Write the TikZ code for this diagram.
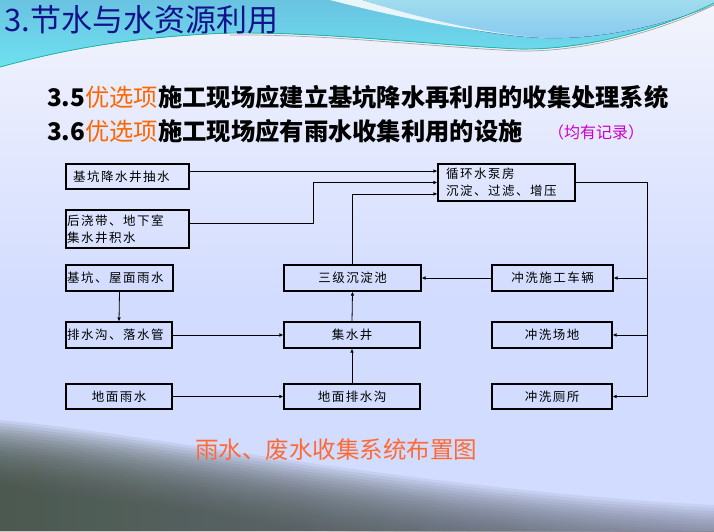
\documentclass[tikz,border=0pt]{standalone}
\usepackage{fontspec}
\setmainfont{Noto Sans CJK SC}
\newfontfamily\hei{Noto Sans CJK SC}
\newfontfamily\boxfont{Noto Sans CJK SC}[LetterSpace=12]
\usetikzlibrary{arrows.meta,calc}
\definecolor{wsnavy}{RGB}{18,18,140}
\definecolor{wsorange}{RGB}{255,102,0}
\definecolor{wscaption}{RGB}{255,105,50}
\definecolor{wsmagenta}{RGB}{204,0,204}
\definecolor{wsbgtop}{RGB}{243,244,252}
\definecolor{wsbgbot}{RGB}{210,220,255}
\definecolor{wswavel}{RGB}{105,195,225}
\definecolor{wswaveb}{RGB}{110,225,240}
\definecolor{wswaver}{RGB}{160,220,238}
\definecolor{wswaverb}{RGB}{135,200,240}
\definecolor{wsteal}{RGB}{30,185,165}
\definecolor{wsgreen}{RGB}{140,165,140}
\tikzset{
wsbox/.style={rectangle,draw,line width=1.1pt,inner sep=0pt,align=center,
  font=\boxfont\fontsize{12.5}{16.5}\selectfont},
wsleft/.style={wsbox,align=left},
wsarr/.style={-{Latex[length=4pt,width=3.6pt]},line width=0.8pt},
wsline/.style={line width=0.8pt},
wstext/.style={anchor=west,inner sep=0pt}
}
\begin{document}
\begin{tikzpicture}[x=1pt,y=-1pt]
\useasboundingbox (0,0) rectangle (714,531);
% background and waves
\fill[top color=wsbgtop,bottom color=wsbgbot] (0,0) rectangle (714,300);
\fill[wsbgbot] (0,299) rectangle (714,531);
\foreach \d in {0,3,...,66}
  \fill[left color=wsgreen,right color=wsbgbot,opacity=0.05]
    (0,420+\d) .. controls (160,435+\d) and (420,490+\d) .. (714,505+\d) -- (714,531) -- (0,531) -- cycle;
\fill[top color=wswavel,bottom color=wswaveb]
  (0,0) -- (714,0) -- (714,3) .. controls (680,20) and (600,50) .. (520,49)
  .. controls (430,45) and (330,32) .. (230,33) .. controls (150,36) and (80,45) .. (0,67) -- cycle;
\fill[top color=wswaver,bottom color=wswaverb]
  (362,0) .. controls (420,18) and (480,36) .. (545,38) .. controls (620,40) and (690,15) .. (714,5) -- (714,0) -- cycle;
\fill[white,opacity=0.85]
  (330,0) .. controls (400,18) and (470,32) .. (545,38) .. controls (480,33) and (420,18) .. (362,0) -- cycle;
\draw[gray!70,line width=0.7pt]
  (230,35) .. controls (330,34) and (430,47) .. (520,51) .. controls (600,52) and (680,22) .. (714,5);
\draw[wsteal,line width=0.8pt]
  (714,3) .. controls (680,20) and (600,50) .. (520,49) .. controls (430,45) and (330,32) .. (230,33)
  .. controls (150,36) and (80,45) .. (0,67);
% headings
\node[wstext,text=wsnavy,font=\hei\fontsize{31}{33}\selectfont] (title) at (4,20) {3.节水与水资源利用};
\node[wstext,font=\hei\fontsize{24.3}{26}\selectfont] (item1) at (47,97)
  {\textbf{3.5}\textcolor{wsorange}{优选项}\textbf{施工现场应建立基坑降水再利用的收集处理系统}};
\node[wstext,font=\hei\fontsize{24.3}{26}\selectfont] (item2) at (47,131)
  {\textbf{3.6}\textcolor{wsorange}{优选项}\textbf{施工现场应有雨水收集利用的设施}};
\node[wstext,text=wsmagenta,font=\hei\fontsize{16}{18}\selectfont] (note) at (548,132) {（均有记录）};
% boxes
\node[wsleft,minimum width=123pt,minimum height=25pt,text width=109pt]
  (pitwell) at (127.5,176.5) {基坑降水井抽水};
\node[wsleft,minimum width=123pt,minimum height=38pt,text width=121pt]
  (basement) at (127.5,229) {后浇带、地下室\\集水井积水};
\node[wsleft,minimum width=107pt,minimum height=26pt,text width=105pt]
  (pitrain) at (119.5,278) {基坑、屋面雨水};
\node[wsleft,minimum width=106pt,minimum height=26pt,text width=104pt]
  (ditch) at (119,335) {排水沟、落水管};
\node[wsbox,minimum width=106pt,minimum height=25pt]
  (groundrain) at (119,396.5) {地面雨水};
\node[wsleft,minimum width=137pt,minimum height=37pt,text width=121pt]
  (pumphouse) at (506.5,182.5) {循环水泵房\\沉淀、过滤、增压};
\node[wsbox,minimum width=137pt,minimum height=26pt]
  (settle) at (352.5,278) {三级沉淀池};
\node[wsbox,minimum width=136pt,minimum height=26pt]
  (sump) at (352,335) {集水井};
\node[wsbox,minimum width=136pt,minimum height=25pt]
  (gditch) at (352,396.5) {地面排水沟};
\node[wsbox,minimum width=121pt,minimum height=26pt]
  (carwash) at (552.5,278) {冲洗施工车辆};
\node[wsbox,minimum width=120pt,minimum height=26pt]
  (sitewash) at (552,335) {冲洗场地};
\node[wsbox,minimum width=120pt,minimum height=25pt]
  (toiletwash) at (552,396.5) {冲洗厕所};
\node[wstext,text=wscaption,font=\hei\fontsize{23.5}{26}\selectfont] (caption) at (195,450) {雨水、废水收集系统布置图};
% connectors
\coordinate (in1) at ($(pumphouse.north west)!0.2!(pumphouse.south west)$);
\coordinate (in2) at ($(pumphouse.north west)!0.5!(pumphouse.south west)$);
\coordinate (in3) at ($(pumphouse.north west)!0.8!(pumphouse.south west)$);
\coordinate (bout) at ($(basement.north east)!0.35!(basement.south east)$);
\coordinate (jog) at (313,0);
\coordinate (bus) at (647,182.5);
\draw[wsarr] (pitwell.east |- in1) -- (in1);
\draw[wsarr] (bout) -- (bout -| jog) |- (in2);
\draw[wsarr] (settle.north) |- (in3);
\draw[wsarr] (pumphouse.east) -- (bus) |- (toiletwash.east);
\draw[wsarr] (bus |- carwash.east) -- (carwash.east);
\draw[wsarr] (bus |- sitewash.east) -- (sitewash.east);
\draw[wsarr] (carwash.west) -- (settle.east);
\draw[wsarr] (pitrain.south) -- (ditch.north);
\draw[wsarr] (ditch.east) -- (sump.west);
\draw[wsarr] (groundrain.east) -- (gditch.west);
\draw[wsarr] (gditch.north) -- (sump.south);
\draw[wsarr] (sump.north) -- (settle.south);
\end{tikzpicture}
\end{document}
